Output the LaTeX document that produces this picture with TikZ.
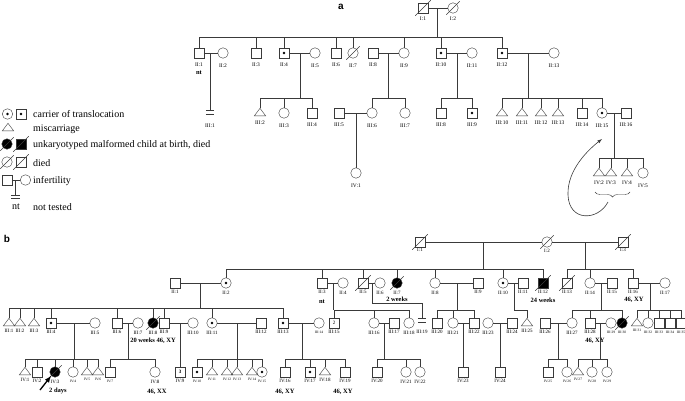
\documentclass[tikz,border=0pt]{standalone}
\usepackage{fontspec}
\setmainfont{Liberation Serif}
\newfontfamily\panelfont{Liberation Sans}
\usepackage{tikz}
\usetikzlibrary{shapes.geometric, arrows, positioning, calc, decorations.pathreplacing}
\definecolor{linegray}{HTML}{3A3A3A}

\begin{document}
\begin{tikzpicture}[x=1pt, y=-1pt,
    male/.style={rectangle, draw=linegray, thin, minimum size=9.5pt, inner sep=0pt, font=\fontsize{5}{5}\selectfont},
    female/.style={circle, draw=linegray, thin, minimum size=10.5pt, inner sep=0pt},
    loss/.style={isosceles triangle, isosceles triangle apex angle=74, shape border rotate=90, draw=linegray, thin, minimum height=7.5pt, inner sep=0pt},
    carrier/.style={path picture={\fill (path picture bounding box.center) circle (1.3pt);}},
    affected/.style={fill=black},
    deceased/.style={append after command={(\tikzlastnode.south west) edge[draw=linegray, thin, shorten <=-4pt, shorten >=-4pt] (\tikzlastnode.north east)}},
    infert/.style={minimum width=8pt, minimum height=3pt, inner sep=0pt, append after command={(\tikzlastnode.north west) edge[draw=linegray, thin] (\tikzlastnode.north east) (\tikzlastnode.south west) edge[draw=linegray, thin] (\tikzlastnode.south east)}},
    rel/.style={draw=linegray, thin},
    tag/.style={font=\fontsize{5.5}{6}\selectfont, inner sep=0pt, label distance=5pt},
    btag/.style={font=\fontsize{5}{6}\selectfont, inner sep=0pt, label distance=2.5pt},
    tinytag/.style={font=\fontsize{3.6}{4}\selectfont, inner sep=0pt, label distance=2.5pt},
    note/.style={font=\fontsize{6.5}{7}\selectfont\bfseries, inner sep=0pt},
    legend/.style={font=\fontsize{10}{12}\selectfont, anchor=west, inner sep=0pt},
    panel/.style={font=\panelfont\fontsize{10}{12}\selectfont\bfseries, inner sep=0pt},
]
\useasboundingbox (0,0) rectangle (685,400);

% Panel letters
\node[panel] (tag-a) at (341,7) {a};
\node[panel] (tag-b) at (7,239) {b};

% Legend
\node[female, carrier] (lg-car-f) at (7.5,114) {};
\node[male, carrier] (lg-car-m) at (21,114) {};
\node[legend] (lg-car) at (33,114) {carrier of translocation};
\node[loss] (lg-loss) at (8,128) {};
\node[legend] (lg-mis) at (33,129) {miscarriage};
\node[female, affected, deceased] (lg-aff-f) at (7,144) {};
\node[male, affected, deceased] (lg-aff-m) at (21,144) {};
\node[legend] (lg-aff) at (33,145) {unkaryotyped malformed child at birth, died};
\node[female, deceased] (lg-die-f) at (7,162) {};
\node[male, deceased] (lg-die-m) at (21,162) {};
\node[legend] (lg-die) at (33,163) {died};
\node[male] (lg-inf-m) at (7,180) {};
\node[female] (lg-inf-f) at (25.5,180) {};
\node[infert] (lg-inf-bar) at (15.5,196.5) {};
\node[legend] (lg-inf) at (33,181) {infertility};
\node[legend, anchor=center] (lg-nt-sym) at (16,207) {nt};
\node[legend] (lg-nt) at (33,207) {not tested};
\draw[rel] (lg-inf-m) -- (lg-inf-f);
\coordinate (lg-inf-j) at (15.5,180);
\draw[rel] (lg-inf-j) -- (lg-inf-bar.north);

% ---------------- a ----------------
% Generation I
\node[male, deceased, label={[tag, label distance=3.5pt]below:I:1}] (ai1) at (423,8) {};
\node[female, deceased, label={[tag, label distance=3.5pt]below:I:2}] (ai2) at (453,8) {};

% Generation II
\node[male, label={[tag]below:II:1}] (aii1) at (199,53) {};
\node[note] (aii1-nt) at (199,73) {nt};
\node[female, label={[tag]below:II:2}] (aii2) at (223,53) {};
\node[male, label={[tag]below:II:3}] (aii3) at (256,53) {};
\node[male, carrier, label={[tag]below:II:4}] (aii4) at (284,53) {};
\node[female, label={[tag]below:II:5}] (aii5) at (315,53) {};
\node[male, label={[tag]below:II:6}] (aii6) at (336,53) {};
\node[female, deceased, label={[tag]below:II:7}] (aii7) at (353,53) {};
\node[male, label={[tag]below:II:8}] (aii8) at (373,53) {};
\node[female, label={[tag]below:II:9}] (aii9) at (404,53) {};
\node[male, carrier, label={[tag]below:II:10}] (aii10) at (441,53) {};
\node[female, label={[tag]below:II:11}] (aii11) at (472,53) {};
\node[male, carrier, label={[tag]below:II:12}] (aii12) at (502,53) {};
\node[female, label={[tag]below:II:13}] (aii13) at (554,53) {};

% Generation III
\node[infert, label={[tag, label distance=10pt]below:III:1}] (aiii1) at (210,112) {};
\node[loss, label={[tag]below:III:2}] (aiii2) at (260,113) {};
\node[female, label={[tag]below:III:3}] (aiii3) at (284,113) {};
\node[male, label={[tag]below:III:4}] (aiii4) at (312,113) {};
\node[male, label={[tag]below:III:5}] (aiii5) at (339,113) {};
\node[female, label={[tag]below:III:6}] (aiii6) at (372,113) {};
\node[female, label={[tag]below:III:7}] (aiii7) at (405,113) {};
\node[male, label={[tag]below:III:8}] (aiii8) at (441,113) {};
\node[male, carrier, label={[tag]below:III:9}] (aiii9) at (472,113) {};
\node[loss, label={[tag]below:III:10}] (aiii10) at (502,113) {};
\node[loss, label={[tag]below:III:11}] (aiii11) at (522,113) {};
\node[loss, label={[tag]below:III:12}] (aiii12) at (541,113) {};
\node[loss, label={[tag]below:III:13}] (aiii13) at (558,113) {};
\node[male, label={[tag]below:III:14}] (aiii14) at (582,113) {};
\node[female, carrier, label={[tag]below:III:15}] (aiii15) at (602,113) {};
\node[male, label={[tag]below:III:16}] (aiii16) at (626,113) {};

% Generation IV
\node[female, label={[tag]below:IV:1}] (aiv1) at (356,173) {};
\node[loss, label={[tag]below:IV:2}] (aiv2) at (599,173) {};
\node[loss, label={[tag]below:IV:3}] (aiv3) at (611,173) {};
\node[loss, label={[tag]below:IV:4}] (aiv4) at (627,173) {};
\node[female, label={[tag]below:IV:5}] (aiv5) at (643,173) {};

% Lines a
\draw[rel] (ai1) -- (ai2);
\coordinate (am1) at (437,8);
\coordinate (as1) at (437,37);
\draw[rel] (am1) -- (as1);
\draw[rel] (aii1.north |- as1) -- (aii12.north |- as1);
\foreach \c in {aii1,aii3,aii4,aii6,aii7,aii9,aii10,aii12}
    \draw[rel] (\c.north |- as1) -- (\c.north);
\foreach \m/\f in {aii1/aii2, aii4/aii5, aii8/aii9, aii10/aii11, aii12/aii13, aiii5/aiii6, aiii15/aiii16}
    \draw[rel] (\m) -- (\f);

\coordinate (am2) at (210,53);
\draw[rel] (am2) -- (aiii1.north);

\coordinate (am3) at (300,53);
\coordinate (as3) at (300,98);
\draw[rel] (am3) -- (as3);
\draw[rel] (aiii2.north |- as3) -- (aiii4.north |- as3);
\foreach \c in {aiii2,aiii3,aiii4}
    \draw[rel] (\c.north |- as3) -- (\c.north);

\coordinate (am4) at (388,53);
\coordinate (as4) at (388,98);
\draw[rel] (am4) -- (as4);
\draw[rel] (aiii6.north |- as4) -- (aiii7.north |- as4);
\foreach \c in {aiii6,aiii7}
    \draw[rel] (\c.north |- as4) -- (\c.north);

\coordinate (am5) at (457,53);
\coordinate (as5) at (457,98);
\draw[rel] (am5) -- (as5);
\draw[rel] (aiii8.north |- as5) -- (aiii9.north |- as5);
\foreach \c in {aiii8,aiii9}
    \draw[rel] (\c.north |- as5) -- (\c.north);

\coordinate (am6) at (528,53);
\coordinate (as6) at (528,98);
\draw[rel] (am6) -- (as6);
\draw[rel] (aiii10.north |- as6) -- (aiii15.north |- as6);
\foreach \c in {aiii10,aiii11,aiii12,aiii13,aiii14,aiii15}
    \draw[rel] (\c.north |- as6) -- (\c.north);

\coordinate (am7) at (356,113);
\draw[rel] (am7) -- (aiv1.north);

\coordinate (am8) at (614,113);
\coordinate (as8) at (614,158);
\draw[rel] (am8) -- (as8);
\draw[rel] (aiv2.north |- as8) -- (aiv5.north |- as8);
\foreach \c in {aiv2,aiv3,aiv4,aiv5}
    \draw[rel] (\c.north |- as8) -- (\c.north);

% Brace and arrow
\coordinate (br-l) at (595,192);
\coordinate (br-r) at (630,192);
\draw[rel, decorate, decoration={brace, amplitude=5pt, mirror}] (br-l) -- (br-r);
\coordinate (br-tip) at (608,202);
\coordinate (arr-end) at (602,139);
\draw[rel, -latex, semithick] (br-tip) .. controls (598,221) and (569,222) .. (568,195)
    .. controls (567,170) and (588,150) .. (arr-end);

% ---------------- b ----------------
% Generation I
\node[male, deceased, label={[btag, label distance=1.5pt]below:I:1}] (bi1) at (420,242) {};
\node[female, deceased, label={[btag, label distance=1.5pt]below:I:2}] (bi2) at (547,242) {};
\node[male, deceased, label={[btag, label distance=1.5pt]below:I:3}] (bi3) at (623,242) {};

% Generation II
\node[male, label={[btag]below:II:1}] (bii1) at (175,283) {};
\node[female, carrier, label={[btag]below:II:2}] (bii2) at (226,283) {};
\node[male, label={[btag]below:II:3}] (bii3) at (322,283) {};
\node[note] (bii3-nt) at (322,302) {nt};
\node[female, label={[btag]below:II:4}] (bii4) at (343,283) {};
\node[male, deceased, label={[btag]below:II:5}] (bii5) at (363,283) {};
\node[female, label={[btag]below:II:6}] (bii6) at (380,283) {};
\node[female, affected, deceased, label={[btag]below:II:7}] (bii7) at (397,283) {};
\node[note] (bii7-age) at (397,299) {2 weeks};
\node[female, label={[btag]below:II:8}] (bii8) at (435,283) {};
\node[male, label={[btag]below:II:9}] (bii9) at (478,283) {};
\node[female, carrier, label={[btag]below:II:10}] (bii10) at (503,283) {};
\node[male, label={[btag]below:II:11}] (bii11) at (523,283) {};
\node[male, affected, deceased, label={[btag]below:II:12}] (bii12) at (543,283) {};
\node[note] (bii12-age) at (543,300) {24 weeks};
\node[male, deceased, label={[btag]below:II:13}] (bii13) at (567,283) {};
\node[female, label={[btag]below:II:14}] (bii14) at (590,283) {};
\node[male, label={[btag]below:II:15}] (bii15) at (612,283) {};
\node[male, label={[btag]below:II:16}] (bii16) at (633,283) {};
\node[note] (bii16-kt) at (634,300) {46, XY};
\node[female, label={[btag]below:II:17}] (bii17) at (665,283) {};

% Generation III
\node[loss, label={[btag]below:III:1}] (biii1) at (9,323) {};
\node[loss, label={[btag]below:III:2}] (biii2) at (20,323) {};
\node[loss, label={[btag]below:III:3}] (biii3) at (34,323) {};
\node[male, carrier, label={[btag]below:III:4}] (biii4) at (51,323) {};
\node[female, label={[btag]below:III:5}] (biii5) at (95,323) {};
\node[male, label={[btag]below:III:6}] (biii6) at (117,323) {};
\node[female, label={[btag]below:III:7}] (biii7) at (138,323) {};
\node[female, affected, deceased, label={[btag]below:III:8}] (biii8) at (153,323) {};
\node[male, label={[btag]below:III:9}] (biii9) at (164,323) {};
\node[note] (biii8-kt) at (153,341) {20 weeks 46, XY};
\node[female, label={[btag]below:III:10}] (biii10) at (193,323) {};
\node[female, carrier, label={[btag]below:III:11}] (biii11) at (212,323) {};
\node[male, label={[btag]below:III:12}] (biii12) at (261,323) {};
\node[male, carrier, label={[btag]below:III:13}] (biii13) at (283,323) {};
\node[female, label={[tinytag]below:III:14}] (biii14) at (319,323) {};
\node[male, label={[btag]below:III:15}] (biii15) at (334,323) {2};
\node[female, label={[btag]below:III:16}] (biii16) at (374,323) {};
\node[male, label={[btag]below:III:17}] (biii17) at (394,323) {};
\node[female, label={[btag]below:III:18}] (biii18) at (409,323) {};
\node[infert, label={[btag, label distance=8pt]below:III:19}] (biii19) at (422,320) {};
\node[male, label={[btag]below:III:20}] (biii20) at (437,323) {};
\node[female, label={[btag]below:III:21}] (biii21) at (453,323) {};
\node[male, label={[btag]below:III:22}] (biii22) at (474,323) {};
\node[female, label={[btag]below:III:23}] (biii23) at (488,323) {};
\node[male, label={[btag]below:III:24}] (biii24) at (512,323) {};
\node[loss, label={[btag]below:III:25}] (biii25) at (527,323) {};
\node[male, label={[btag]below:III:26}] (biii26) at (545,323) {};
\node[female, label={[btag]below:III:27}] (biii27) at (572,323) {};
\node[male, label={[btag]below:III:28}] (biii28) at (590,323) {};
\node[note] (biii28-kt) at (595,341) {46, XY};
\node[female, label={[tinytag]below:III:29}] (biii29) at (611,323) {};
\node[female, affected, deceased, label={[tinytag]below:III:30}] (biii30) at (622,323) {};
\node[loss, label={[tinytag]below:III:31}] (biii31) at (637,323) {};
\node[female, label={[tinytag]below:III:32}] (biii32) at (648,323) {};
\node[male, label={[tinytag]below:III:33}] (biii33) at (659,323) {};
\node[male, label={[tinytag]below:III:34}] (biii34) at (670,323) {};
\node[male, label={[tinytag]below:III:35}] (biii35) at (681,323) {};

% Generation IV
\node[loss, label={[btag]below:IV:1}] (biv1) at (25,372) {};
\node[male, label={[btag]below:IV:2}] (biv2) at (37,372) {};
\node[female, affected, deceased, label={[btag]below:IV:3}] (biv3) at (55,372) {};
\node[note] (biv3-age) at (58,391) {2 days};
\node[female, label={[tinytag]below:IV:4}] (biv4) at (73,372) {};
\node[loss, label={[tinytag]below:IV:5}] (biv5) at (87,372) {};
\node[loss, label={[tinytag]below:IV:6}] (biv6) at (98,372) {};
\node[male, label={[tinytag]below:IV:7}] (biv7) at (110,372) {};
\node[female, label={[btag]below:IV:8}] (biv8) at (155,372) {};
\node[note] (biv8-kt) at (157,392) {46, XX};
\node[male, label={[btag]below:IV:9}] (biv9) at (180,372) {\textbf{3}};
\node[male, carrier, label={[tinytag]below:IV:10}] (biv10) at (197,372) {};
\node[loss, label={[tinytag]below:IV:11}] (biv11) at (212,372) {};
\node[loss, label={[tinytag]below:IV:12}] (biv12) at (227,372) {};
\node[loss, label={[tinytag]below:IV:13}] (biv13) at (237,372) {};
\node[loss, label={[tinytag]below:IV:14}] (biv14) at (252,372) {};
\node[female, carrier, label={[tinytag]below:IV:15}] (biv15) at (262,372) {};
\node[male, label={[btag]below:IV:16}] (biv16) at (285,372) {};
\node[note] (biv16-kt) at (285,392) {46, XY};
\node[male, carrier, label={[btag]below:IV:17}] (biv17) at (310,372) {};
\node[loss, label={[btag]below:IV:18}] (biv18) at (325,372) {};
\node[male, label={[btag]below:IV:19}] (biv19) at (345,372) {};
\node[note] (biv19-kt) at (343,392) {46, XY};
\node[male, label={[btag]below:IV:20}] (biv20) at (377,372) {};
\node[female, label={[btag]below:IV:21}] (biv21) at (406,372) {};
\node[female, label={[btag]below:IV:22}] (biv22) at (420,372) {};
\node[male, label={[btag]below:IV:23}] (biv23) at (463,372) {};
\node[male, label={[btag]below:IV:24}] (biv24) at (500,372) {};
\node[male, label={[tinytag]below:IV:25}] (biv25) at (548,372) {};
\node[female, label={[tinytag]below:IV:26}] (biv26) at (567,372) {};
\node[loss, label={[tinytag]below:IV:27}] (biv27) at (578,372) {};
\node[female, label={[tinytag]below:IV:28}] (biv28) at (592,372) {};
\node[female, label={[tinytag]below:IV:29}] (biv29) at (607,372) {};

% Lines b: generation I
\draw[rel] (bi1) -- (bi2);
\draw[rel] (bi2) -- (bi3);
\coordinate (bm1) at (483,242);
\coordinate (bs1) at (483,269);
\draw[rel] (bm1) -- (bs1);
\draw[rel] (bii2.north |- bs1) -- (bii12.north |- bs1);
\foreach \c in {bii2,bii3,bii5,bii7,bii8,bii10,bii12}
    \draw[rel] (\c.north |- bs1) -- (\c.north);
\coordinate (bm2) at (585,242);
\coordinate (bs2) at (585,269);
\draw[rel] (bm2) -- (bs2);
\draw[rel] (bii13.north |- bs2) -- (bii16.north |- bs2);
\foreach \c in {bii13,bii14,bii16}
    \draw[rel] (\c.north |- bs2) -- (\c.north);

% Lines b: couples
\foreach \m/\f in {bii1/bii2, bii3/bii4, bii5/bii6, bii8/bii9, bii10/bii11, bii14/bii15, bii16/bii17,
    biii4/biii5, biii6/biii7, biii9/biii10, biii11/biii12, biii13/biii14, biii16/biii17,
    biii21/biii22, biii23/biii24, biii26/biii27, biii28/biii29}
    \draw[rel] (\m) -- (\f);

% Lines b: generation II to III
\coordinate (bm3) at (200,283);
\coordinate (bs3) at (200,308);
\draw[rel] (bm3) -- (bs3);
\draw[rel] (biii1.north |- bs3) -- (biii13.north |- bs3);
\foreach \c in {biii1,biii2,biii3,biii4,biii6,biii8,biii9,biii11,biii13}
    \draw[rel] (\c.north |- bs3) -- (\c.north);

\coordinate (bm4) at (333,283);
\coordinate (bs4) at (333,310);
\draw[rel] (bm4) -- (bs4);
\draw[rel] (biii15.north |- bs4) -- (biii18.north |- bs4);
\foreach \c in {biii15,biii16,biii18}
    \draw[rel] (\c.north |- bs4) -- (\c.north);

\coordinate (bm5) at (372,283);
\coordinate (bs5) at (422,303);
\draw[rel] (bm5) |- (bs5) -- (biii19.north);

\coordinate (bm6) at (457,283);
\coordinate (bs6) at (457,310);
\draw[rel] (bm6) -- (bs6);
\draw[rel] (biii20.north |- bs6) -- (biii22.north |- bs6);
\foreach \c in {biii20,biii21,biii22}
    \draw[rel] (\c.north |- bs6) -- (\c.north);

\coordinate (bm7) at (514,283);
\coordinate (bs7) at (527,310);
\draw[rel] (bm7) |- (bs7) -- (biii25.north);

\coordinate (bm8) at (601,283);
\coordinate (bs8) at (601,310);
\draw[rel] (bm8) -- (bs8);
\draw[rel] (biii27.north |- bs8) -- (biii30.north |- bs8);
\foreach \c in {biii27,biii28,biii30}
    \draw[rel] (\c.north |- bs8) -- (\c.north);

\coordinate (bm9) at (650,283);
\coordinate (bs9) at (650,310);
\draw[rel] (bm9) -- (bs9);
\draw[rel] (biii31.north |- bs9) -- (biii35.north |- bs9);
\foreach \c in {biii31,biii32,biii33,biii34,biii35}
    \draw[rel] (\c.north |- bs9) -- (\c.north);

% Lines b: generation III to IV
\coordinate (bm10) at (74,323);
\coordinate (bs10) at (74,359);
\draw[rel] (bm10) -- (bs10);
\draw[rel] (biv1.north |- bs10) -- (biv6.north |- bs10);
\foreach \c in {biv1,biv2,biv3,biv4,biv5,biv6}
    \draw[rel] (\c.north |- bs10) -- (\c.north);

\coordinate (bm11) at (128,323);
\coordinate (bs11) at (128,359);
\draw[rel] (bm11) -- (bs11);
\draw[rel] (biv7.north |- bs11) -- (biv8.north |- bs11);
\foreach \c in {biv7,biv8}
    \draw[rel] (\c.north |- bs11) -- (\c.north);

\coordinate (bm12) at (180,323);
\draw[rel] (bm12) -- (biv9.north);

\coordinate (bm13) at (237,323);
\coordinate (bs13) at (237,359);
\draw[rel] (bm13) -- (bs13);
\draw[rel] (biv10.north |- bs13) -- (biv15.north |- bs13);
\foreach \c in {biv10,biv11,biv12,biv13,biv14,biv15}
    \draw[rel] (\c.north |- bs13) -- (\c.north);

\coordinate (bm14) at (302,323);
\coordinate (bs14) at (302,359);
\draw[rel] (bm14) -- (bs14);
\draw[rel] (biv16.north |- bs14) -- (biv19.north |- bs14);
\foreach \c in {biv16,biv17,biv18,biv19}
    \draw[rel] (\c.north |- bs14) -- (\c.north);

\coordinate (bm15) at (384,323);
\coordinate (bs15) at (384,359);
\draw[rel] (bm15) -- (bs15);
\draw[rel] (biv20.north |- bs15) -- (biv22.north |- bs15);
\foreach \c in {biv20,biv21,biv22}
    \draw[rel] (\c.north |- bs15) -- (\c.north);

\coordinate (bm16) at (463,323);
\draw[rel] (bm16) -- (biv23.north);
\coordinate (bm17) at (500,323);
\draw[rel] (bm17) -- (biv24.north);

\coordinate (bm18) at (558,323);
\coordinate (bs18) at (558,359);
\draw[rel] (bm18) -- (bs18);
\draw[rel] (biv25.north |- bs18) -- (biv26.north |- bs18);
\foreach \c in {biv25,biv26}
    \draw[rel] (\c.north |- bs18) -- (\c.north);

\coordinate (bm19) at (600,323);
\coordinate (bs19) at (600,359);
\draw[rel] (bm19) -- (bs19);
\draw[rel] (biv27.north |- bs19) -- (biv29.north |- bs19);
\foreach \c in {biv27,biv28,biv29}
    \draw[rel] (\c.north |- bs19) -- (\c.north);

% Proband arrow
\coordinate (proband) at (40,390);
\draw[-latex, line width=1.3pt] (proband) -- (biv3.south west);

\end{tikzpicture}
\end{document}
